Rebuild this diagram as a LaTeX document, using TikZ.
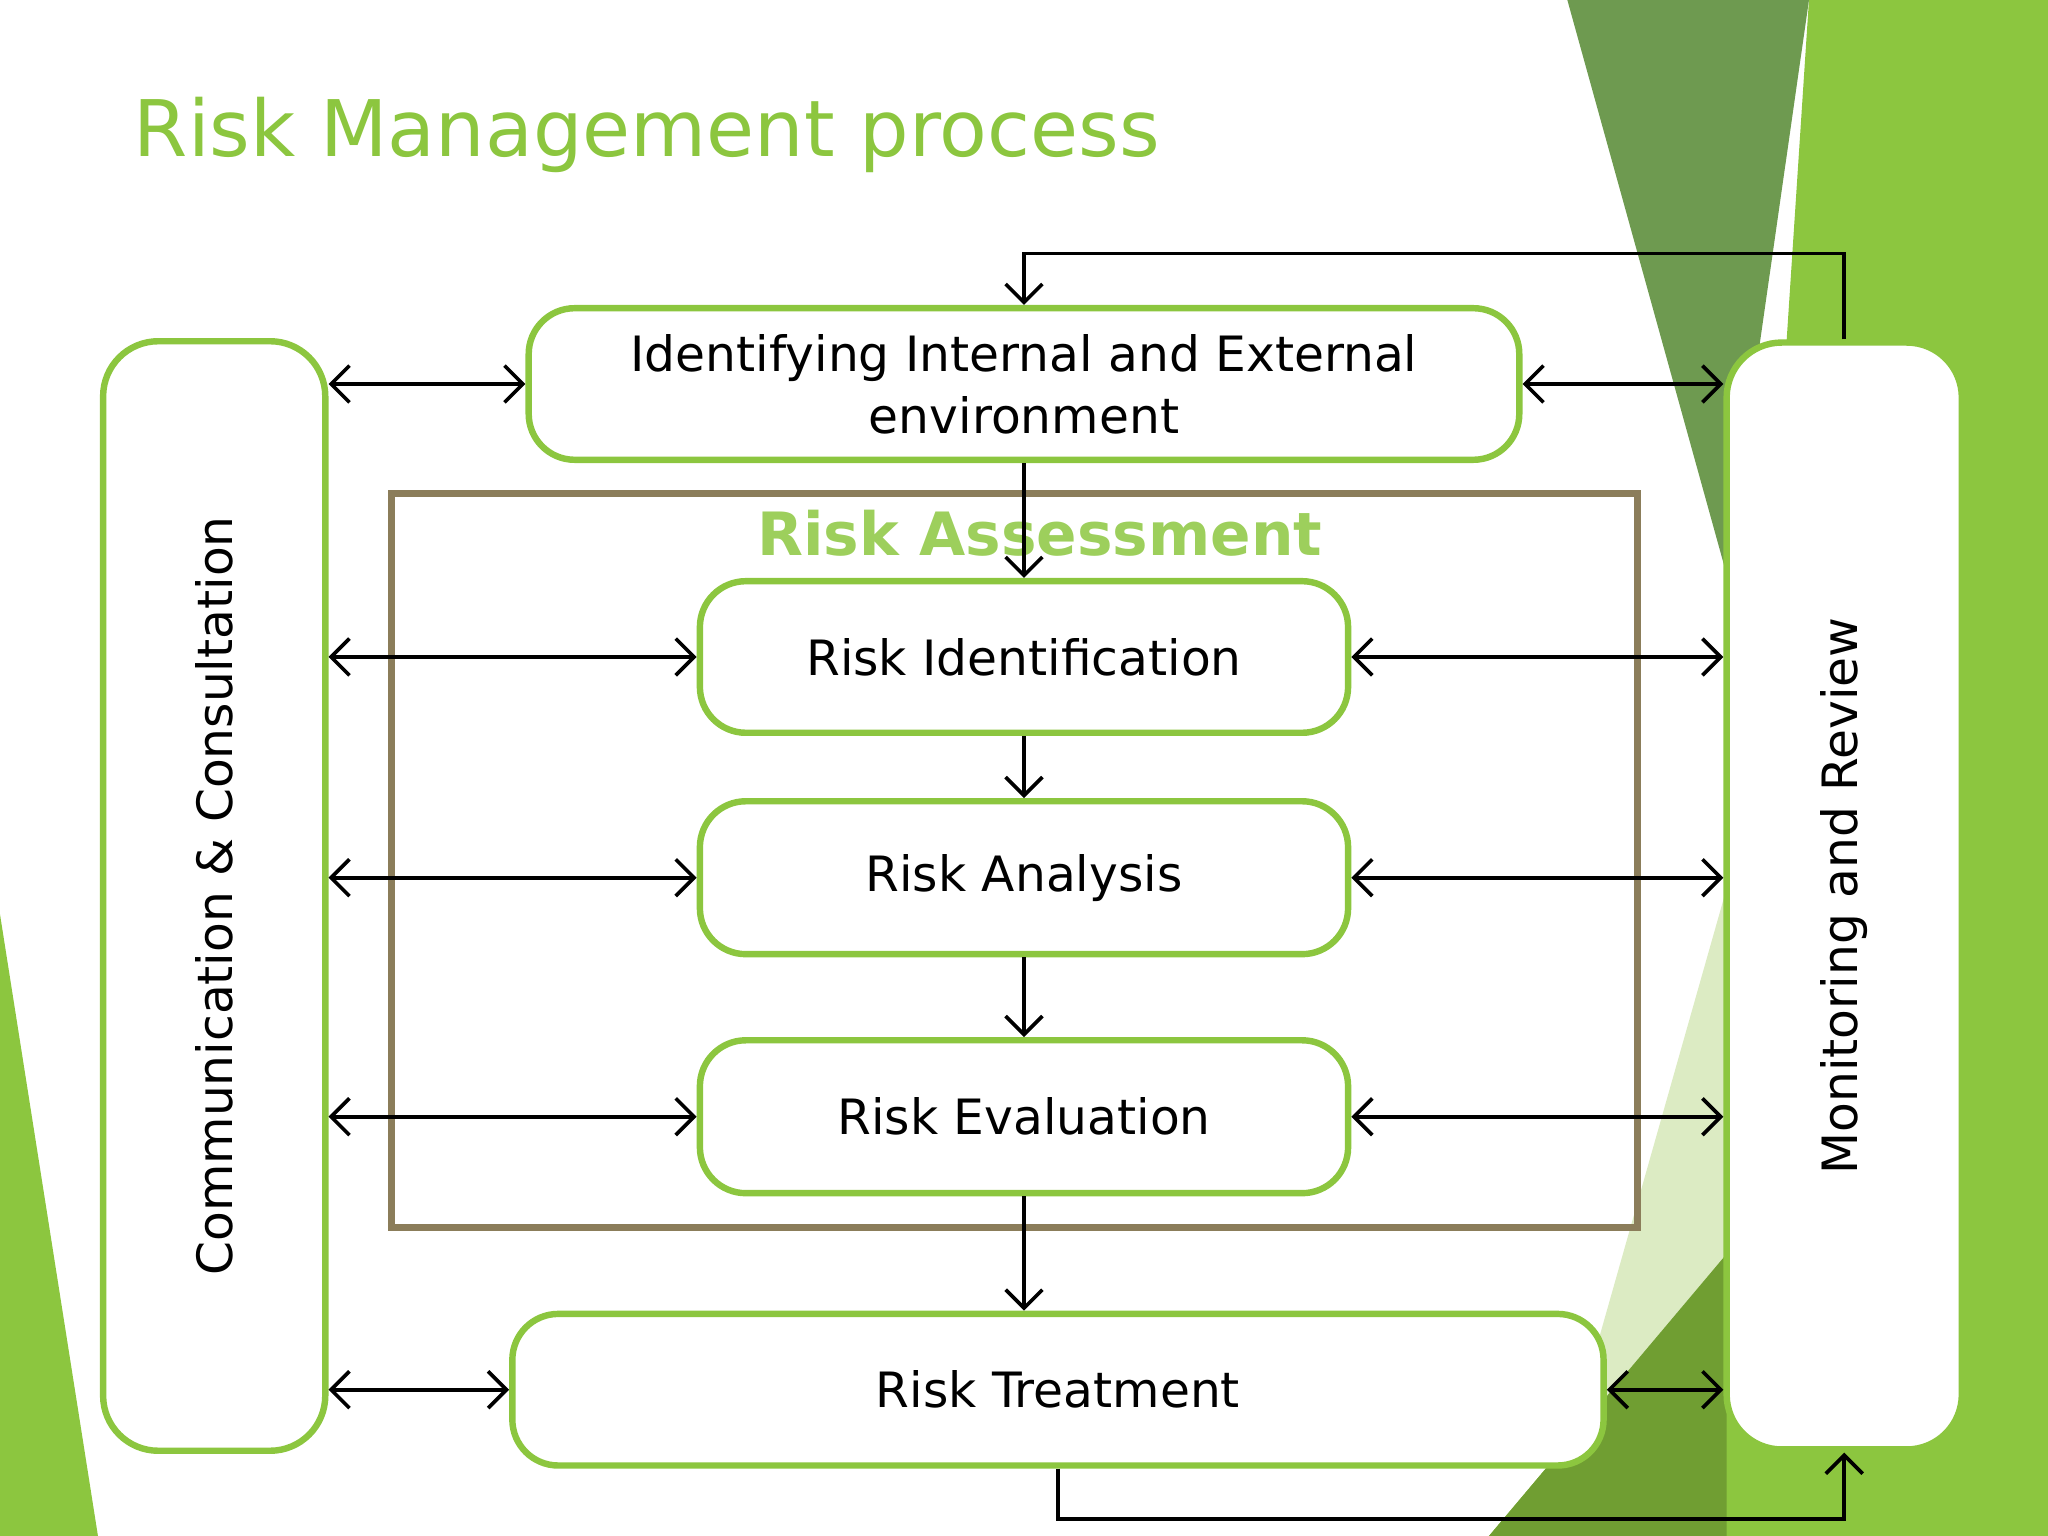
\documentclass[tikz,border=0pt]{standalone}
\usepackage{fontspec}
\setmainfont{DejaVu Sans}
\usetikzlibrary{arrows.meta,positioning}
\definecolor{leaf}{HTML}{8CC63F}
\definecolor{darkleaf}{HTML}{6E9A50}
\definecolor{paleleaf}{HTML}{DCEBC3}
\definecolor{frame}{HTML}{8B7D5A}
\tikzset{
  stage/.style={draw=leaf,line width=1.4pt,rounded corners=10pt,fill=white,
    align=center,font=\fontsize{10.6}{13.5}\selectfont},
  side/.style={draw=leaf,line width=1.4pt,rounded corners=12pt,fill=white,
    font=\fontsize{10.6}{13.5}\selectfont},
  link/.style={{Straight Barb[length=4pt,width=8pt]}-{Straight Barb[length=4pt,width=8pt]},line width=0.8pt},
  flow/.style={-{Straight Barb[length=4pt,width=8pt]},line width=0.8pt}
}
\begin{document}
\begin{tikzpicture}[x=0.01cm,y=-0.01cm]
   \useasboundingbox (0,0) rectangle (1568,1176);
   % background
   \fill[leaf] (1385,0) -- (1540,0) -- (1568,0) -- (1568,1176) -- (1140,1176) -- (1322,960) -- cycle;
   \fill[darkleaf] (1200,0) -- (1385,0) -- (1322,440) -- cycle;
   \fill[paleleaf] (1322,680) -- (1322,960) -- (1200,1110) -- cycle;
   \fill[leaf!80!black] (1322,960) -- (1322,1176) -- (1140,1176) -- cycle;
   \fill[leaf] (0,700) -- (75,1176) -- (0,1176) -- cycle;
   \node[anchor=west,text=leaf,font=\fontsize{17}{20}\selectfont] (title) at (90,103) {Risk Management process};
   % boxes
   \draw[frame,line width=1.5pt] (300,378) rectangle (1254,940);
   \node[text=leaf!85!white,font=\bfseries\fontsize{13}{15}\selectfont] (assess) at (796,408) {Risk Assessment};
   \node[side,minimum width=1.70cm,minimum height=8.49cm] (comm) at (164,686) {};
   \node[rotate=90,font=\fontsize{10.6}{13.5}\selectfont] at (comm) {Communication \& Consultation};
   \node[side,minimum width=1.80cm,minimum height=8.47cm] (mon) at (1412,686) {};
   \node[rotate=90,font=\fontsize{10.6}{13.5}\selectfont] at (mon) {Monitoring and Review};
   \node[stage,minimum width=7.58cm,minimum height=1.16cm] (env) at (784,294) {Identifying Internal and External\\environment};
   \node[stage,minimum width=4.96cm,minimum height=1.16cm] (ident) at (784,503) {Risk Identification};
   \node[stage,minimum width=4.96cm,minimum height=1.17cm] (anal) at (784,672) {Risk Analysis};
   \node[stage,minimum width=4.96cm,minimum height=1.17cm] (eval) at (784,855) {Risk Evaluation};
   \node[stage,minimum width=8.35cm,minimum height=1.16cm] (treat) at (810,1064) {Risk Treatment};
   % vertical flow
   \draw[flow] (env) -- (ident);
   \draw[flow] (ident) -- (anal);
   \draw[flow] (anal) -- (eval);
   \draw[flow] (eval.south) -- (eval.south |- treat.north);
   % feedback loops
   \coordinate (topturn) at (1412,194);
   \coordinate (botturn) at (810,1163);
   \draw[flow] (mon.north) -- (topturn) -| (env.north);
   \draw[flow] (treat.south) -- (botturn) -| (mon.south);
   % left links
   \draw[link] (comm.east |- env.west) -- (env.west);
   \draw[link] (comm.east |- ident.west) -- (ident.west);
   \draw[link] (comm.east |- anal.west) -- (anal.west);
   \draw[link] (comm.east |- eval.west) -- (eval.west);
   \draw[link] (comm.east |- treat.west) -- (treat.west);
   % right links
   \draw[link] (env.east) -- (mon.west |- env.east);
   \draw[link] (ident.east) -- (mon.west |- ident.east);
   \draw[link] (anal.east) -- (mon.west |- anal.east);
   \draw[link] (eval.east) -- (mon.west |- eval.east);
   \draw[link] (treat.east) -- (mon.west |- treat.east);
\end{tikzpicture}
\end{document}
